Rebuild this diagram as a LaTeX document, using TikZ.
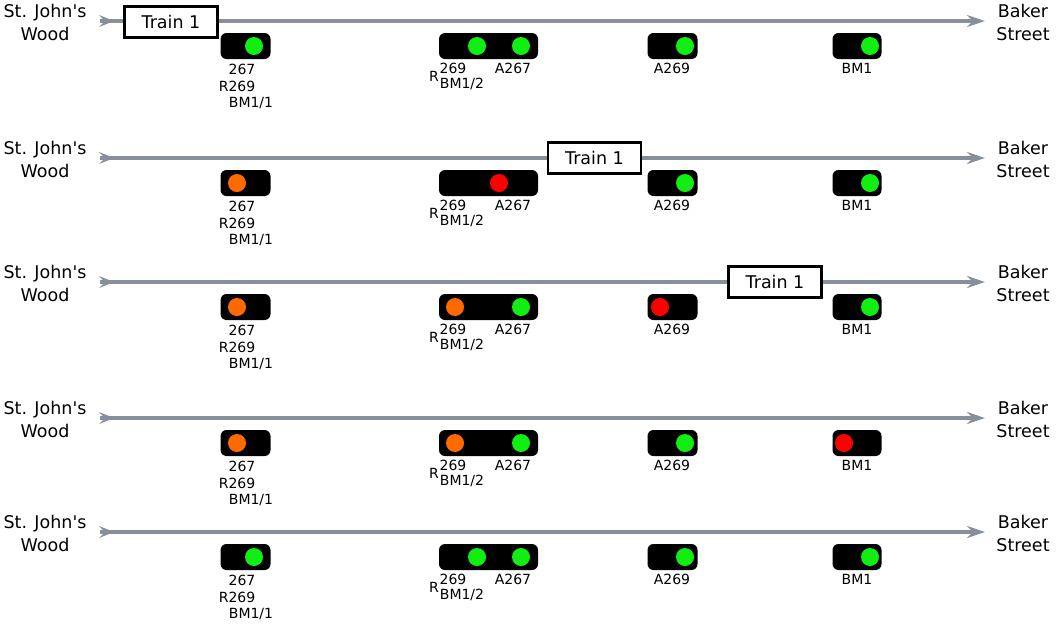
\documentclass[tikz,border=0pt]{standalone}
\usepackage{fontspec}
\setmainfont{DejaVu Sans}
\newfontfamily\stnfont{DejaVu Sans}
\usetikzlibrary{arrows.meta}
\definecolor{trk}{HTML}{87909A}
\definecolor{sgreen}{HTML}{11EE11}
\definecolor{sorange}{HTML}{FF6A00}
\definecolor{sred}{HTML}{FF0000}
\tikzset{
  track/.style={draw=trk,line width=4pt,-{Stealth[length=18pt,width=12pt]}},
  sigbox/.style={fill=black,rounded corners=6pt,minimum height=26pt,inner sep=0pt},
  lamp/.style={circle,fill=#1,minimum size=18pt,inner sep=0pt},
  lbl/.style={font=\fontsize{14}{14}\selectfont,inner sep=0pt},
  stn/.style={font=\stnfont\fontsize{17.5}{23}\selectfont,align=center,inner sep=0pt},
  train/.style={draw,fill=white,line width=2.6pt,minimum width=93pt,minimum height=31pt,font=\stnfont\fontsize{17.5}{17}\selectfont,inner sep=0pt}
}
\newcommand{\trackrow}[2]{%
  \coordinate (s#1) at (100,#2);
  \coordinate (e#1) at (985,#2);
  \fill[trk] (99,#2-6) -- (114,#2) -- (99,#2+6) -- (105,#2) -- cycle;
  \draw[track] (s#1) -- (e#1);
  \node[stn] (w#1) at (45,#2+1) {St. John's\\Wood};
  \node[stn] (b#1) at (1023,#2+1) {Baker\\Street};
  \node[sigbox,minimum width=50pt] (ga#1) at (245.5,#2+25) {};
  \node[sigbox,minimum width=99pt] (gb#1) at (488.5,#2+25) {};
  \node[sigbox,minimum width=50pt] (gc#1) at (672.5,#2+25) {};
  \node[sigbox,minimum width=49pt] (gd#1) at (857,#2+25) {};
  \node[lbl] (ta#1) at (242,#2+48) {267};
  \node[lbl] (tb#1) at (237,#2+65) {R269};
  \node[lbl] (tc#1) at (251,#2+82) {BM1/1};
  \node[lbl] (td#1) at (434,#2+55) {R};
  \node[lbl] (te#1) at (453,#2+47) {269};
  \node[lbl] (tf#1) at (462,#2+63) {BM1/2};
  \node[lbl] (tg#1) at (513,#2+47) {A267};
  \node[lbl] (th#1) at (672,#2+47) {A269};
  \node[lbl] (ti#1) at (857,#2+47) {BM1};
}
\begin{document}
\begin{tikzpicture}[x=1pt,y=-1pt]
\useasboundingbox (0,0) rectangle (1056,625);
\trackrow{1}{21}
\trackrow{2}{158}
\trackrow{3}{282}
\trackrow{4}{418}
\trackrow{5}{532}
% row 1
\node[lamp=sgreen] (l11) at (254,46) {};
\node[lamp=sgreen] (l12) at (477,46) {};
\node[lamp=sgreen] (l13) at (521,46) {};
\node[lamp=sgreen] (l14) at (685,46) {};
\node[lamp=sgreen] (l15) at (870,46) {};
\node[train] (tr1) at (171,22) {Train 1};
% row 2
\node[lamp=sorange] (l21) at (237,183) {};
\node[lamp=sred] (l22) at (499,183) {};
\node[lamp=sgreen] (l23) at (685,183) {};
\node[lamp=sgreen] (l24) at (870,183) {};
\node[train] (tr2) at (594.5,158) {Train 1};
% row 3
\node[lamp=sorange] (l31) at (237,307) {};
\node[lamp=sorange] (l32) at (455,307) {};
\node[lamp=sgreen] (l33) at (521,307) {};
\node[lamp=sred] (l34) at (660,307) {};
\node[lamp=sgreen] (l35) at (870,307) {};
\node[train] (tr3) at (775,282) {Train 1};
% row 4
\node[lamp=sorange] (l41) at (237,443) {};
\node[lamp=sorange] (l42) at (455,443) {};
\node[lamp=sgreen] (l43) at (521,443) {};
\node[lamp=sgreen] (l44) at (685,443) {};
\node[lamp=sred] (l45) at (844,443) {};
% row 5
\node[lamp=sgreen] (l51) at (254,557) {};
\node[lamp=sgreen] (l52) at (477,557) {};
\node[lamp=sgreen] (l53) at (521,557) {};
\node[lamp=sgreen] (l54) at (685,557) {};
\node[lamp=sgreen] (l55) at (870,557) {};
\end{tikzpicture}
\end{document}
